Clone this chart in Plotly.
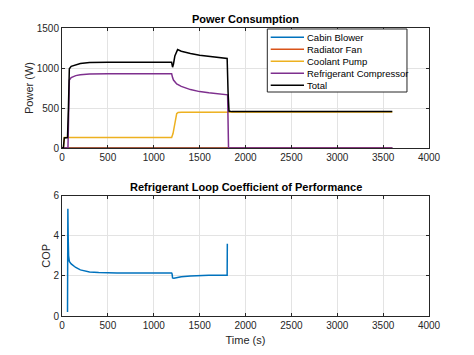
import plotly.graph_objects as go
from plotly.subplots import make_subplots

# ---- data ----
blower_t = [0, 3600]
blower_w = [3, 3]

fan_t = [0, 3600]
fan_w = [0, 0]

pump_t = [0, 15, 25, 1195, 1210, 1230, 1250, 1265, 1300, 3600]
pump_w = [0, 0, 130, 130, 180, 320, 430, 445, 447, 450]

comp_t = [0, 65, 72, 80, 100, 150, 200, 300, 500, 1195, 1205, 1215, 1250, 1300,
          1400, 1500, 1600, 1700, 1795, 1805, 1815, 3600]
comp_w = [0, 0, 400, 850, 880, 905, 915, 925, 928, 928, 880, 850, 800, 770,
          730, 705, 690, 678, 672, 665, 0, 0]

total_t = [0, 15, 25, 60, 70, 80, 100, 150, 200, 300, 500, 1000, 1195, 1205,
           1215, 1230, 1260, 1300, 1400, 1500, 1600, 1700, 1795, 1800, 1810,
           1820, 1850, 2000, 3600]
total_w = [0, 0, 125, 130, 500, 990, 1020, 1040, 1055, 1068, 1072, 1072, 1072,
           1010, 1050, 1150, 1230, 1210, 1180, 1160, 1145, 1130, 1122, 1120,
           700, 462, 455, 455, 455]

cop_t = [60, 62, 64, 67, 72, 80, 100, 150, 200, 300, 400, 600, 1195, 1200,
         1205, 1220, 1300, 1400, 1600, 1795, 1800, 1802]
cop_v = [0.2, 2.5, 5.35, 4.0, 3.0, 2.72, 2.6, 2.42, 2.3, 2.2, 2.17, 2.15, 2.15,
         2.1, 1.9, 1.88, 1.96, 2.0, 2.03, 2.03, 2.03, 3.6]

x_ticks = [0, 500, 1000, 1500, 2000, 2500, 3000, 3500, 4000]
power_ticks = [0, 500, 1000, 1500]
cop_ticks = [0, 2, 4, 6]

series_names = ["Cabin Blower", "Radiator Fan", "Coolant Pump",
                "Refrigerant Compressor", "Total"]
series_colors = ["#0072BD", "#D95319", "#EDB120", "#7E2F8E", "#000000"]
series_t = [blower_t, fan_t, pump_t, comp_t, total_t]
series_w = [blower_w, fan_w, pump_w, comp_w, total_w]

fig = make_subplots(rows=2, cols=1, vertical_spacing=0.0,
                    subplot_titles=("Power Consumption",
                                    "Refrigerant Loop Coefficient of Performance"))

lw = 1.5
for name, col, t, w in zip(series_names, series_colors, series_t, series_w):
    fig.add_trace(go.Scatter(x=t, y=w, mode="lines", name=name, showlegend=False,
                             line=dict(color=col, width=lw)), row=1, col=1)
fig.add_trace(go.Scatter(x=cop_t, y=cop_v, mode="lines", name="COP", showlegend=False,
                         line=dict(color="#0072BD", width=lw)), row=2, col=1)

font_fam = "Liberation Sans, Arial, sans-serif"
axis_common = dict(showline=True, mirror="ticks", linecolor="#262626", linewidth=1,
                   ticks="inside", ticklen=3, tickcolor="#262626", automargin=False,
                   showgrid=True, gridcolor="#E3E3E3", gridwidth=1, zeroline=False,
                   tickfont=dict(family=font_fam, size=10, color="#262626"))

fig.update_xaxes(range=[0, 4000], tickvals=x_ticks, **axis_common)
fig.update_yaxes(**axis_common)
fig.update_yaxes(range=[0, 1500], tickvals=power_ticks,
                 title=dict(text="Power (W)", font=dict(family=font_fam, size=11, color="#262626"),
                            standoff=0), row=1, col=1)
fig.update_yaxes(range=[0, 6], tickvals=cop_ticks,
                 title=dict(text="COP", font=dict(family=font_fam, size=11, color="#262626"),
                            standoff=0), row=2, col=1)
fig.update_xaxes(title=dict(text="Time (s)", font=dict(family=font_fam, size=11, color="#262626"),
                            standoff=6), row=2, col=1)

fig.update_layout(
    yaxis=dict(domain=[0.5833, 1.0]),
    yaxis2=dict(domain=[0.0, 0.4177]),
)

for ann in fig.layout.annotations:
    ann.font = dict(family=font_fam, size=11, color="#000000")
    ann.text = "<b>" + ann.text + "</b>"
    ann.yshift = 1
fig.layout.annotations[0].y = 1.0
fig.layout.annotations[1].y = 0.4177

# ---- legend box drawn inside the top axes (MATLAB style, compact rows) ----
fig.add_shape(type="rect", xref="x domain", yref="y domain",
              x0=0.5594, x1=0.940, y0=0.4667, y1=0.9917,
              line=dict(color="#262626", width=1), fillcolor="white", layer="above")
for i, (name, col) in enumerate(zip(series_names, series_colors)):
    yc = 0.9225 - 0.1 * i
    fig.add_shape(type="line", xref="x domain", yref="y domain",
                  x0=0.5687, x1=0.6594, y0=yc, y1=yc,
                  line=dict(color=col, width=1.5), layer="above")
    fig.add_annotation(xref="x domain", yref="y domain", x=0.6668, y=yc,
                       xanchor="left", yanchor="middle", showarrow=False,
                       xshift=-2, text=name,
                       font=dict(family=font_fam, size=9.5, color="#000000"))

fig.update_layout(
    width=474, height=355,
    margin=dict(l=62, r=45, t=28, b=39),
    paper_bgcolor="white", plot_bgcolor="white",
    font=dict(family=font_fam, size=10, color="#262626"),
    showlegend=False,
    hovermode=False,
)

fig.write_html("out.html", config={"displayModeBar": False},
               post_script="document.body.style.margin='0';document.body.style.overflow='hidden';")
